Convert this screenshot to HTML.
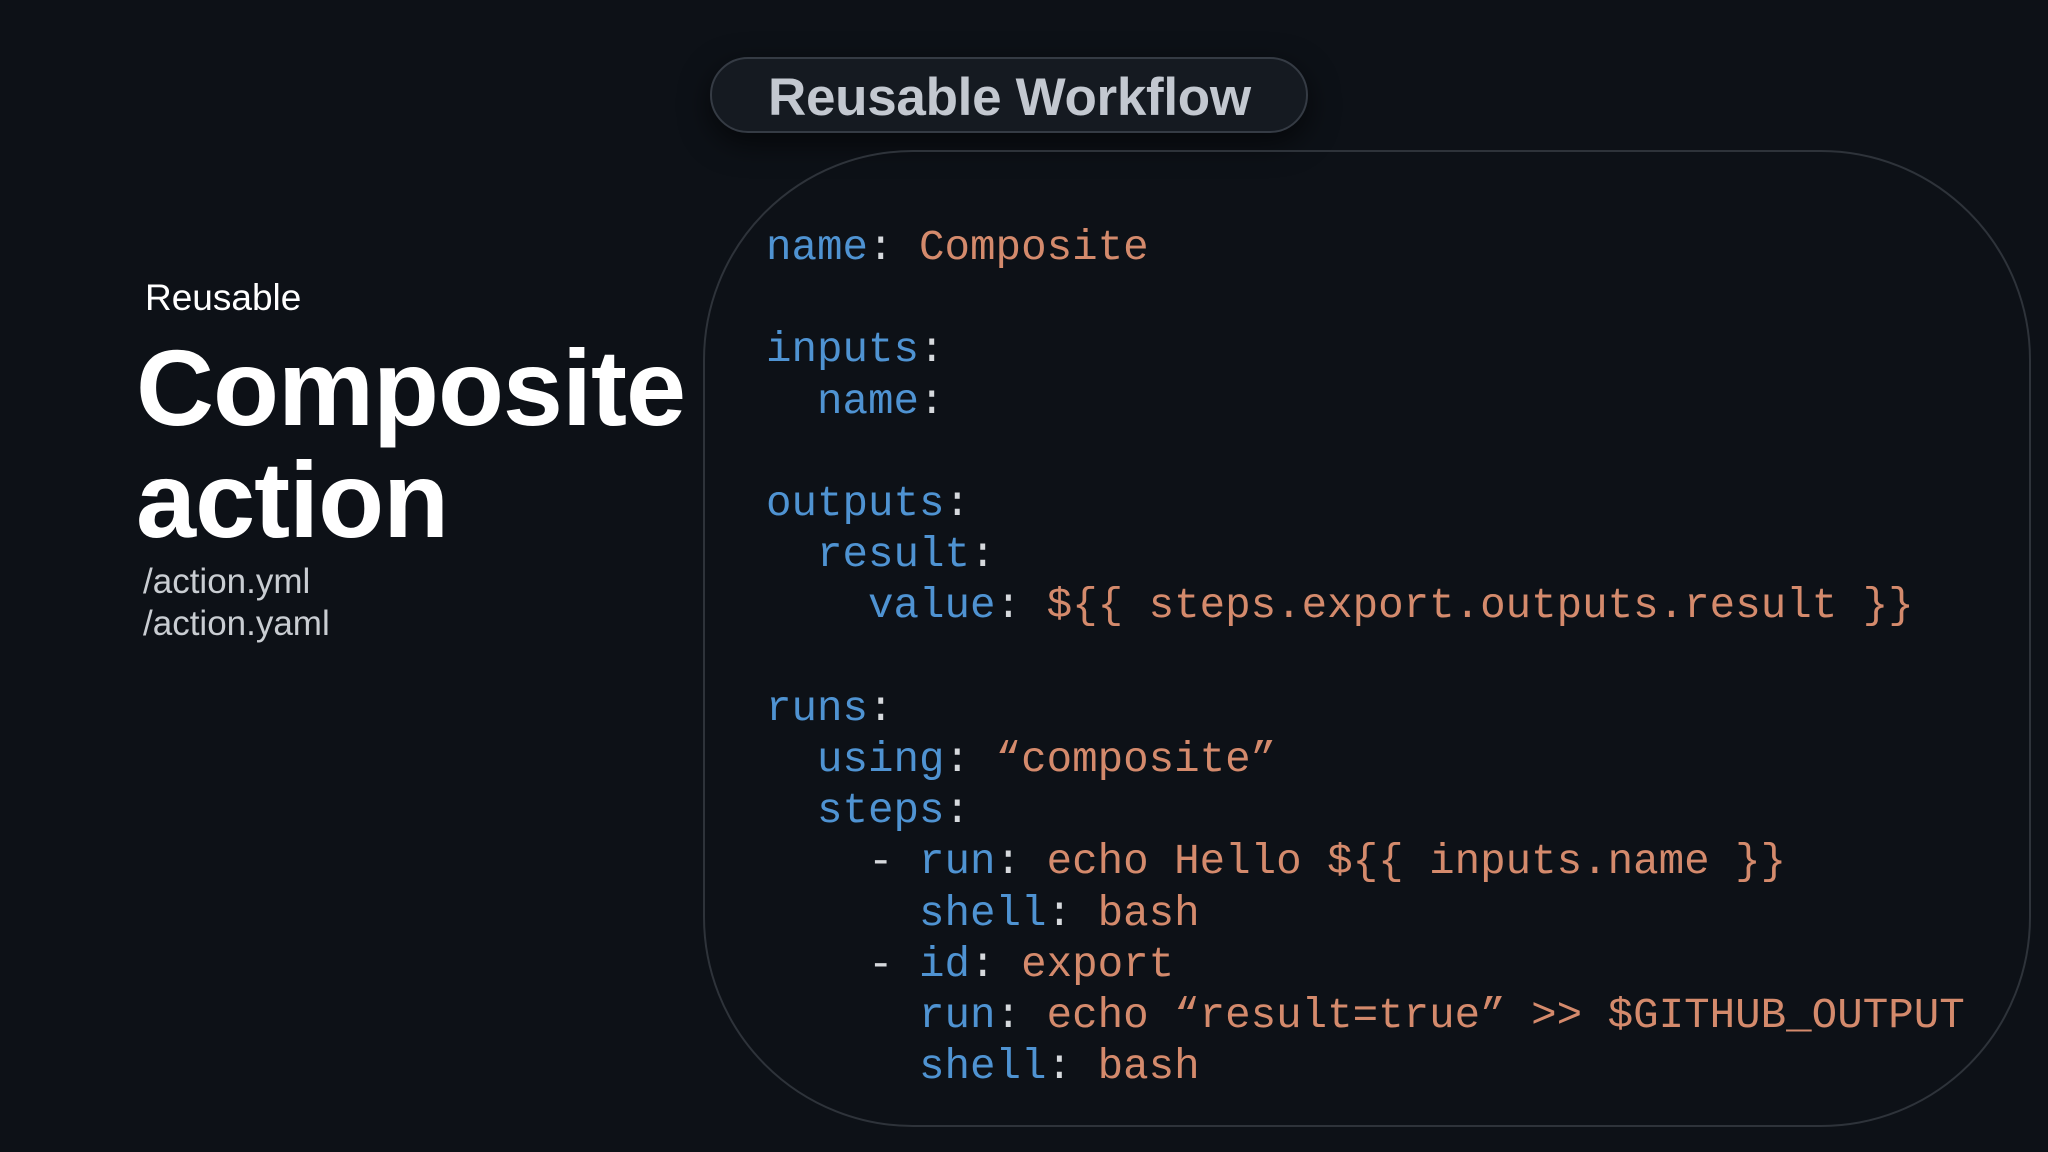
<!DOCTYPE html>
<html><head><meta charset="utf-8"><style>
html,body{margin:0;padding:0}
body{width:2048px;height:1152px;background:#0d1117;position:relative;overflow:hidden;font-family:"Liberation Sans",sans-serif}
.pill{position:absolute;left:710px;top:57px;width:598px;height:76px;border:2px solid #353b44;border-radius:40px;background:#151a21;box-sizing:border-box;box-shadow:0 10px 30px rgba(0,0,0,.6)}
.pill span{position:absolute;left:56px;top:8px;font-size:53px;font-weight:bold;color:#c3c8d0;letter-spacing:-0.3px}
.card{position:absolute;left:703px;top:150px;width:1328px;height:977px;border:2px solid #2e333a;border-radius:210px;box-sizing:border-box}
.code{position:absolute;left:766px;top:223px;font-family:"Liberation Mono",monospace;font-size:42.5px;line-height:51.2px;white-space:pre;color:#d6d9dd}
.k{color:#4f93d2}.v{color:#d48a6c}
.t{position:absolute;color:#fff}
</style></head><body>
<div class="t" style="left:145px;top:277px;font-size:37px">Reusable</div>
<div class="t" style="left:136px;top:332px;font-size:108px;font-weight:bold;line-height:112px;letter-spacing:-1px">Composite<br>action</div>
<div class="t" style="left:143px;top:561px;font-size:35px;color:#c9cdd2;line-height:42px">/action.yml<br>/action.yaml</div>
<div class="pill"><span>Reusable Workflow</span></div>
<div class="card"></div>
<div class="code"><span class="k">name</span>: <span class="v">Composite</span>

<span class="k">inputs</span>:
  <span class="k">name</span>:

<span class="k">outputs</span>:
  <span class="k">result</span>:
    <span class="k">value</span>: <span class="v">${{ steps.export.outputs.result }}</span>

<span class="k">runs</span>:
  <span class="k">using</span>: <span class="v">“composite”</span>
  <span class="k">steps</span>:
    - <span class="k">run</span>: <span class="v">echo Hello ${{ inputs.name }}</span>
      <span class="k">shell</span>: <span class="v">bash</span>
    - <span class="k">id</span>: <span class="v">export</span>
      <span class="k">run</span>: <span class="v">echo “result=true” &gt;&gt; $GITHUB_OUTPUT</span>
      <span class="k">shell</span>: <span class="v">bash</span></div>
</body></html>
